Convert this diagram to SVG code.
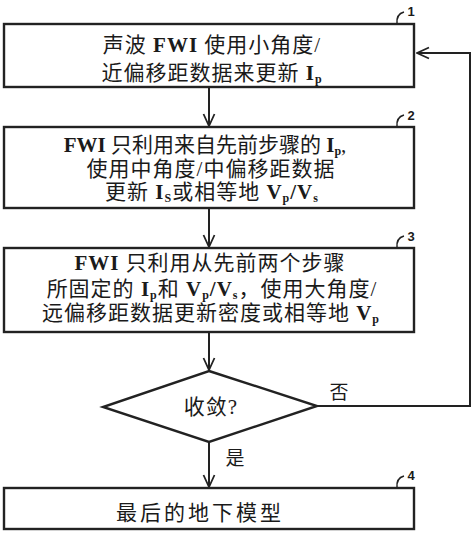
<svg xmlns="http://www.w3.org/2000/svg" width="474" height="536" viewBox="0 0 474 536">
<style>
.box{fill:#fff;stroke:#222;stroke-width:2.4}
.ln{fill:none;stroke:#222;stroke-width:2}
.curl{fill:none;stroke:#222;stroke-width:1.5}
.t{font-family:"Liberation Serif","Noto Sans CJK SC",serif;font-size:21px;fill:#1a1a1a;text-anchor:middle;letter-spacing:1px}
.b{font-weight:bold}
.s{font-size:12px}
.num{font-family:"Liberation Sans",Arial,sans-serif;font-size:13px;font-weight:bold;fill:#1a1a1a;text-anchor:middle}
.lbl{font-family:"Noto Sans CJK SC",sans-serif;font-size:19px;fill:#1a1a1a;text-anchor:middle}
</style>
<defs>
<marker id="arr" markerUnits="userSpaceOnUse" markerWidth="14" markerHeight="14" viewBox="0 0 14 14" refX="13" refY="7" orient="auto">
<path d="M1,1.5 L13,7 L1,12.5" fill="none" stroke="#222" stroke-width="1.8"/>
</marker>
</defs>
<g id="connectors">
<path class="ln" d="M209,87 V126" marker-end="url(#arr)"/>
<path class="ln" d="M209,208 V247" marker-end="url(#arr)"/>
<path class="ln" d="M209,332 V370" marker-end="url(#arr)"/>
<path class="ln" d="M209,442 V487" marker-end="url(#arr)"/>
<path class="ln" d="M317,406 H470 V53 H417" marker-end="url(#arr)"/>
<text class="lbl" x="339" y="399">否</text>
<text class="lbl" x="235" y="465">是</text>
</g>
<g id="node1">
<rect class="box" x="4" y="24" width="410" height="63"/>
<path class="curl" d="M397,24 Q396,14 404,12"/>
<text class="num" x="411" y="16">1</text>
<text class="t" x="212" y="52">声波 <tspan class="b">FWI</tspan> 使用小角度/</text>
<text class="t" x="212" y="80">近偏移距数据来更新 <tspan class="b">I</tspan><tspan class="s b" dy="3">p</tspan></text>
</g>
<g id="node2">
<rect class="box" x="4" y="127" width="410" height="81"/>
<path class="curl" d="M397,127 Q396,117 404,115"/>
<text class="num" x="411" y="120">2</text>
<text class="t" x="205" y="152" style="letter-spacing:0"><tspan class="b">FWI</tspan> 只利用来自先前步骤的 <tspan class="b">I</tspan><tspan class="s b" dy="3">p</tspan><tspan dy="-3">,</tspan></text>
<text class="t" x="211" y="176">使用中角度/中偏移距数据</text>
<text class="t" x="212" y="199">更新 <tspan class="b">I</tspan><tspan class="s b" dy="3">S</tspan><tspan dy="-3">或相等地 </tspan><tspan class="b">V</tspan><tspan class="s b" dy="3">p</tspan><tspan class="b" dy="-3">/V</tspan><tspan class="s b" dy="3">s</tspan></text>
</g>
<g id="node3">
<rect class="box" x="4" y="248" width="410" height="84"/>
<path class="curl" d="M397,248 Q396,238 404,236"/>
<text class="num" x="411" y="241">3</text>
<text class="t" x="210" y="270"><tspan class="b">FWI</tspan> 只利用从先前两个步骤</text>
<text class="t" x="212" y="296">所固定的 <tspan class="b">I</tspan><tspan class="s b" dy="3">p</tspan><tspan dy="-3">和 </tspan><tspan class="b">V</tspan><tspan class="s b" dy="3">p</tspan><tspan class="b" dy="-3">/V</tspan><tspan class="s b" dy="3">s</tspan><tspan dy="-3">，使用大角度/</tspan></text>
<text class="t" x="211" y="320">远偏移距数据更新密度或相等地 <tspan class="b">V</tspan><tspan class="s b" dy="3">p</tspan></text>
</g>
<g id="decision">
<path class="box" d="M209,371 L317,406 L209,442 L103,407 Z"/>
<text class="t" x="211" y="414">收敛?</text>
</g>
<g id="node4">
<rect class="box" x="4" y="488" width="410" height="41"/>
<path class="curl" d="M397,488 Q396,478 404,476"/>
<text class="num" x="411" y="480">4</text>
<text class="t" x="200" y="520" style="letter-spacing:3px">最后的地下模型</text>
</g>
</svg>
